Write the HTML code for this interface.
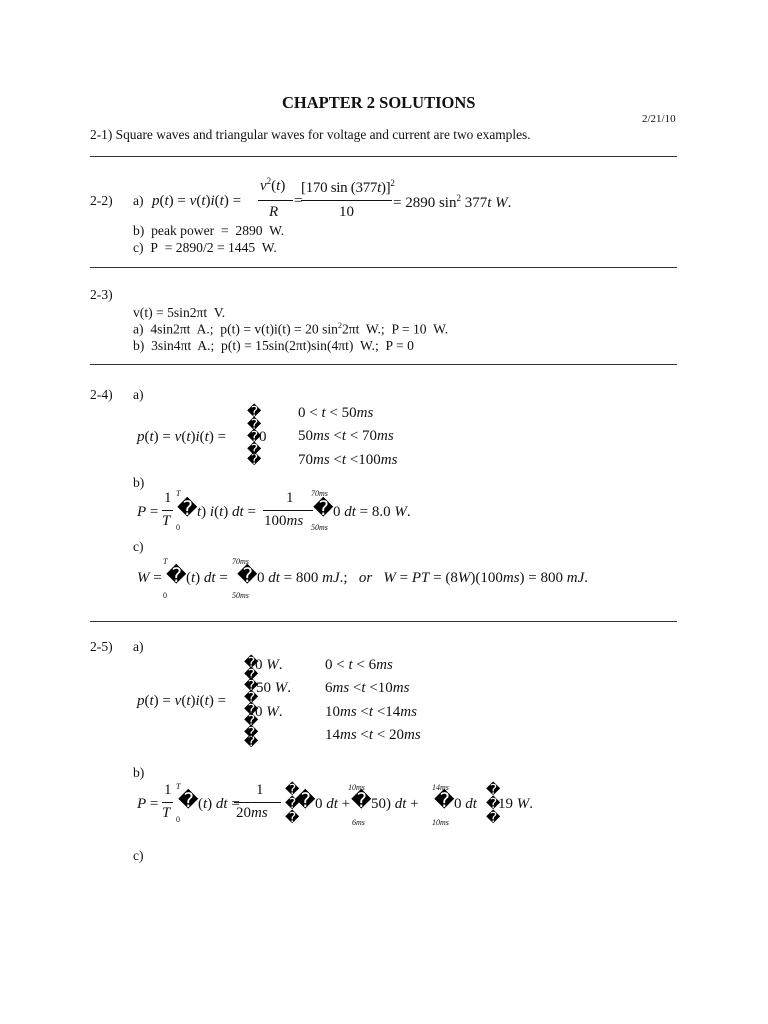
<!DOCTYPE html>
<html><head><meta charset="utf-8"><style>
html,body{margin:0;padding:0;background:#fff;}
body{width:768px;height:1024px;position:relative;overflow:hidden;font-family:"Liberation Serif",serif;color:#111;}
.t{position:absolute;white-space:nowrap;line-height:1;font-size:13.6px;}
.m{position:absolute;white-space:nowrap;line-height:1;font-size:15px;font-family:"Liberation Serif",serif;}
i{font-style:italic;}
.s{position:absolute;white-space:nowrap;line-height:1;font-size:8px;font-style:italic;}
.d{position:absolute;line-height:1;font-family:"DejaVu Sans",sans-serif;color:#000;}
.hr{position:absolute;left:90px;width:587px;height:1px;background:#333;}
.fl{position:absolute;height:1px;background:#111;}
</style></head><body>

<div class="t" style="left:282px;top:95px;font-size:16.5px;font-weight:bold;">CHAPTER 2 SOLUTIONS</div>
<div class="t" style="left:642px;top:114px;font-size:11px;">2/21/10</div>
<div class="t" style="left:90px;top:128px;font-size:13.4px;">2-1) Square waves and triangular waves for voltage and current are two examples.</div>
<div class="hr" style="top:156px;"></div>

<div class="t" style="left:90px;top:194px;">2-2)</div>
<div class="t" style="left:133px;top:194px;">a)</div>
<div class="m" style="left:152px;top:194px;"><i>p</i>(<i>t</i>) = <i>v</i>(<i>t</i>)<i>i</i>(<i>t</i>) =</div>
<div class="m" style="left:260px;top:177px;"><i>v</i><sup style="font-size:9px">2</sup>(<i>t</i>)</div>
<div class="fl" style="left:258px;top:200px;width:35px;"></div>
<div class="m" style="left:269px;top:205px;"><i>R</i></div>
<div class="m" style="left:294px;top:194px;">=</div>
<div class="m" style="left:301px;top:179px;letter-spacing:-0.3px;">[170 sin (377<i>t</i>)]<sup style="font-size:9px">2</sup></div>
<div class="fl" style="left:301px;top:200px;width:91px;"></div>
<div class="m" style="left:339px;top:205px;">10</div>
<div class="m" style="left:393px;top:194px;">= 2890 sin<sup style="font-size:9px">2</sup> 377<i>t W</i>.</div>
<div class="t" style="left:133px;top:224px;">b)&nbsp; peak power&nbsp; =&nbsp; 2890&nbsp; W.</div>
<div class="t" style="left:133px;top:241px;">c)&nbsp; P&nbsp; = 2890/2 = 1445&nbsp; W.</div>
<div class="hr" style="top:267px;"></div>

<div class="t" style="left:90px;top:288px;">2-3)</div>
<div class="t" style="left:133px;top:306px;">v(t) = 5sin2πt&nbsp; V.</div>
<div class="t" style="left:133px;top:322px;">a)&nbsp; 4sin2πt&nbsp; A.;&nbsp; p(t) = v(t)i(t) = 20 sin<sup style="font-size:8px">2</sup>2πt&nbsp; W.;&nbsp; P = 10&nbsp; W.</div>
<div class="t" style="left:133px;top:339px;">b)&nbsp; 3sin4πt&nbsp; A.;&nbsp; p(t) = 15sin(2πt)sin(4πt)&nbsp; W.;&nbsp; P = 0</div>
<div class="hr" style="top:364px;"></div>

<div class="t" style="left:90px;top:388px;">2-4)</div>
<div class="t" style="left:133px;top:388px;">a)</div>
<div class="d" style="left:247px;top:405px;font-size:14px;">�</div>
<div class="d" style="left:247px;top:418px;font-size:14px;">�</div>
<div class="d" style="left:247px;top:430px;font-size:14px;">�</div>
<div class="d" style="left:247px;top:443px;font-size:14px;">�</div>
<div class="d" style="left:247px;top:453px;font-size:14px;">�</div>
<div class="m" style="left:259px;top:430px;">0</div>
<div class="m" style="left:298px;top:406px;">0 &lt; <i>t</i> &lt; 50<i>ms</i></div>
<div class="m" style="left:298px;top:429px;">50<i>ms</i> &lt;<i>t</i> &lt; 70<i>ms</i></div>
<div class="m" style="left:298px;top:453px;">70<i>ms</i> &lt;<i>t</i> &lt;100<i>ms</i></div>
<div class="m" style="left:137px;top:430px;"><i>p</i>(<i>t</i>) = <i>v</i>(<i>t</i>)<i>i</i>(<i>t</i>) =</div>

<div class="t" style="left:133px;top:476px;">b)</div>
<div class="m" style="left:137px;top:505px;"><i>P</i> =</div>
<div class="m" style="left:164px;top:491px;">1</div>
<div class="fl" style="left:162px;top:510px;width:11px;"></div>
<div class="m" style="left:162px;top:514px;"><i>T</i></div>
<div class="s" style="left:176px;top:490px;">T</div>
<div class="s" style="left:176px;top:524px;font-style:normal;">0</div>
<div class="d" style="left:177px;top:498px;font-size:20px;">�</div>
<div class="m" style="left:197px;top:505px;"><i>t</i>) <i>i</i>(<i>t</i>) <i>dt</i> =</div>
<div class="m" style="left:286px;top:491px;">1</div>
<div class="fl" style="left:263px;top:510px;width:50px;"></div>
<div class="m" style="left:264px;top:514px;">100<i>ms</i></div>
<div class="s" style="left:311px;top:490px;">70ms</div>
<div class="s" style="left:311px;top:524px;">50ms</div>
<div class="d" style="left:313px;top:498px;font-size:20px;">�</div>
<div class="m" style="left:333px;top:505px;">0 <i>dt</i> = 8.0 <i>W</i>.</div>

<div class="t" style="left:133px;top:540px;">c)</div>
<div class="s" style="left:163px;top:558px;">T</div>
<div class="s" style="left:163px;top:592px;font-style:normal;">0</div>
<div class="d" style="left:166px;top:565px;font-size:20px;">�</div>
<div class="m" style="left:137px;top:571px;"><i>W</i> =</div>
<div class="m" style="left:186px;top:571px;">(<i>t</i>) <i>dt</i> =</div>
<div class="s" style="left:232px;top:558px;">70ms</div>
<div class="s" style="left:232px;top:592px;">50ms</div>
<div class="d" style="left:237px;top:565px;font-size:20px;">�</div>
<div class="m" style="left:257px;top:571px;">0 <i>dt</i> = 800 <i>mJ</i>.;&nbsp;&nbsp; <i>or</i>&nbsp;&nbsp; <i>W</i> = <i>PT</i> = (8<i>W</i>)(100<i>ms</i>) = 800 <i>mJ</i>.</div>
<div class="hr" style="top:621px;"></div>

<div class="t" style="left:90px;top:640px;">2-5)</div>
<div class="t" style="left:133px;top:640px;">a)</div>
<div class="d" style="left:244px;top:656px;font-size:14px;">�</div>
<div class="d" style="left:244px;top:668px;font-size:14px;">�</div>
<div class="d" style="left:244px;top:679px;font-size:14px;">�</div>
<div class="d" style="left:244px;top:691px;font-size:14px;">�</div>
<div class="d" style="left:244px;top:703px;font-size:14px;">�</div>
<div class="d" style="left:244px;top:714px;font-size:14px;">�</div>
<div class="d" style="left:244px;top:726px;font-size:14px;">�</div>
<div class="d" style="left:244px;top:735px;font-size:14px;">�</div>
<div class="m" style="left:255px;top:658px;">0 <i>W</i>.</div>
<div class="m" style="left:256px;top:681px;">50 <i>W</i>.</div>
<div class="m" style="left:255px;top:705px;">0 <i>W</i>.</div>
<div class="m" style="left:325px;top:658px;">0 &lt; <i>t</i> &lt; 6<i>ms</i></div>
<div class="m" style="left:325px;top:681px;">6<i>ms</i> &lt;<i>t</i> &lt;10<i>ms</i></div>
<div class="m" style="left:325px;top:705px;">10<i>ms</i> &lt;<i>t</i> &lt;14<i>ms</i></div>
<div class="m" style="left:325px;top:728px;">14<i>ms</i> &lt;<i>t</i> &lt; 20<i>ms</i></div>
<div class="m" style="left:137px;top:694px;"><i>p</i>(<i>t</i>) = <i>v</i>(<i>t</i>)<i>i</i>(<i>t</i>) =</div>

<div class="t" style="left:133px;top:766px;">b)</div>
<div class="m" style="left:137px;top:797px;"><i>P</i> =</div>
<div class="m" style="left:164px;top:783px;">1</div>
<div class="fl" style="left:162px;top:802px;width:11px;"></div>
<div class="m" style="left:162px;top:806px;"><i>T</i></div>
<div class="s" style="left:176px;top:783px;">T</div>
<div class="s" style="left:176px;top:816px;font-style:normal;">0</div>
<div class="d" style="left:178px;top:790px;font-size:20px;">�</div>
<div class="m" style="left:198px;top:797px;">(<i>t</i>) <i>dt</i> =</div>
<div class="m" style="left:256px;top:783px;">1</div>
<div class="fl" style="left:234px;top:802px;width:47px;"></div>
<div class="m" style="left:236px;top:806px;">20<i>ms</i></div>
<div class="d" style="left:285px;top:783px;font-size:14px;">�</div>
<div class="d" style="left:285px;top:797px;font-size:14px;">�</div>
<div class="d" style="left:285px;top:811px;font-size:14px;">�</div>
<div class="d" style="left:295px;top:790px;font-size:20px;">�</div>
<div class="m" style="left:315px;top:797px;">0 <i>dt</i> +</div>
<div class="s" style="left:348px;top:784px;">10ms</div>
<div class="s" style="left:352px;top:819px;">6ms</div>
<div class="d" style="left:351px;top:790px;font-size:20px;">�</div>
<div class="m" style="left:371px;top:797px;">50) <i>dt</i> +</div>
<div class="s" style="left:432px;top:784px;">14ms</div>
<div class="s" style="left:432px;top:819px;">10ms</div>
<div class="d" style="left:434px;top:790px;font-size:20px;">�</div>
<div class="m" style="left:454px;top:797px;">0 <i>dt</i></div>
<div class="d" style="left:486px;top:783px;font-size:14px;">�</div>
<div class="d" style="left:486px;top:797px;font-size:14px;">�</div>
<div class="d" style="left:486px;top:811px;font-size:14px;">�</div>
<div class="m" style="left:498px;top:797px;">19 <i>W</i>.</div>

<div class="t" style="left:133px;top:849px;">c)</div>
</body></html>
